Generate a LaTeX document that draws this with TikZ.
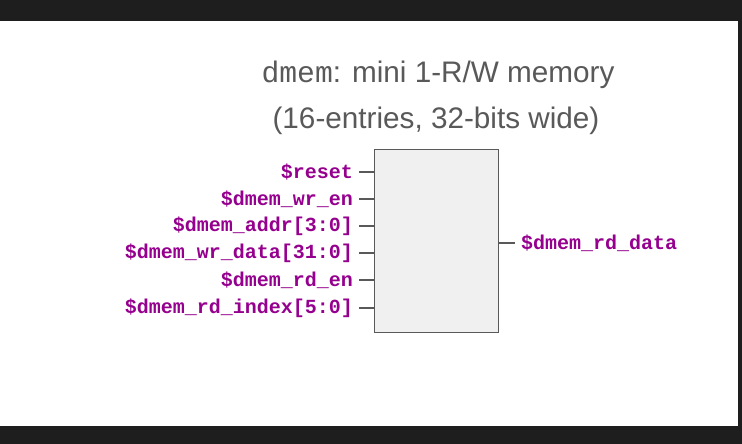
\documentclass[tikz,border=0pt]{standalone}
\usepackage{fontspec}
\setmainfont{Liberation Sans}
\newfontfamily\monof{Liberation Mono}
\definecolor{sig}{HTML}{96008F}
\definecolor{ttl}{HTML}{595959}
\definecolor{frame}{HTML}{1E1E1E}
\begin{document}
\begin{tikzpicture}[x=1pt,y=-1pt,
  lbl/.style={anchor=east,text=sig,font=\monof\bfseries\fontsize{20}{21}\selectfont,inner sep=0pt},
  wire/.style={draw=gray!70!black,line width=1.2pt}]
\fill[frame] (0,0) rectangle (742,444);
\fill[white] (0,21) rectangle (738,426);
\node[text=ttl,font=\fontsize{29.7}{31}\selectfont,inner sep=0] (t1) at (438,75) {{\monof dmem}: mini 1-R/W memory};
\node[text=ttl,font=\fontsize{29.7}{31}\selectfont,inner sep=0] (t2) at (436,121) {(16-entries, 32-bits wide)};
\node[draw=gray!70!black,line width=1.2pt,fill=black!6,minimum width=124pt,minimum height=183pt,anchor=north west,inner sep=0] (box) at (374,149) {};
\foreach \y/\t/\n in {172/\$reset/a,199/\$dmem\_wr\_en/b,226/\$dmem\_addr[3:0]/c,253/\$dmem\_wr\_data[31:0]/d,280/\$dmem\_rd\_en/e,308/\$dmem\_rd\_index[5:0]/f}{
  \node[lbl] (\n) at (353,\y) {\t};
  \coordinate (\n e) at (374,\y);
  \draw[wire] (\n.east) ++(6,0) -- (\n e);
}
\coordinate (os) at (498,243);
\node[lbl,anchor=west] (out) at (521,243) {\$dmem\_rd\_data};
\draw[wire] (os) -- ([xshift=-6pt]out.west);
\end{tikzpicture}
\end{document}
